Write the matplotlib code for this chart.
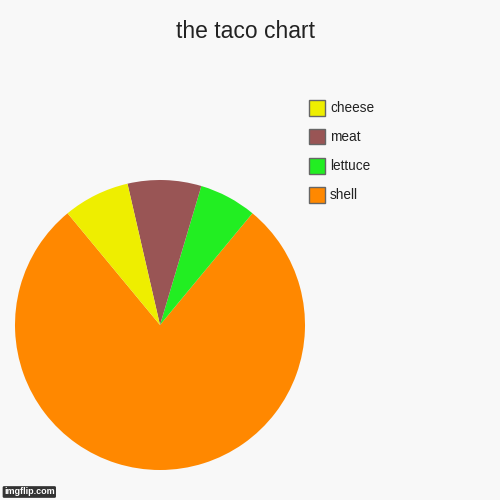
import matplotlib.pyplot as plt
from matplotlib.patches import Rectangle

labels = ['shell', 'lettuce', 'meat', 'cheese']
values = [78.0, 6.4, 8.2, 7.4]
colors = ['#ff8800', '#22ee22', '#995555', '#eeee00']

plt.rcParams['font.family'] = ['Liberation Sans', 'DejaVu Sans']

fig = plt.figure(figsize=(5, 5), dpi=100, facecolor='#f8f8f8')
W, H = 500, 500

# pie centred at (160, 325) px, radius 145
ax = fig.add_axes([15 / W, (H - 470) / H, 290 / W, 290 / H])
ax.set_facecolor('#f8f8f8')
ax.pie(values, colors=colors, startangle=129.6, counterclock=True,
       wedgeprops={'linewidth': 0})
ax.set_xlim(-1, 1)
ax.set_ylim(-1, 1)
ax.set_aspect('equal')
ax.axis('off')

fig.text(246 / W, 1 - 31 / H, 'the taco chart', ha='center', va='center',
         fontsize=16.5, color='#222222')

# legend, reversed order like the source
for i, (lab, col) in enumerate(reversed(list(zip(labels, colors)))):
    top = 100 + i * 29
    r = Rectangle((309 / W, 1 - (top + 15.5) / H), 16 / W, 15.5 / H,
                  transform=fig.transFigure, facecolor=col,
                  edgecolor='#666666', linewidth=1)
    fig.add_artist(r)
    fig.text(330 / W, 1 - (top + 8) / H, lab, ha='left', va='center',
             fontsize=9.8, color='#222222')

fig.text(4 / W, 1 - 492 / H, 'imgflip.com', ha='left', va='center',
         fontsize=6.5, color='white', fontweight='bold',
         bbox=dict(boxstyle='round,pad=0.15', facecolor='#333333',
                   edgecolor='none'))

plt.savefig('out.png', dpi=100, facecolor=fig.get_facecolor())
plt.close()
